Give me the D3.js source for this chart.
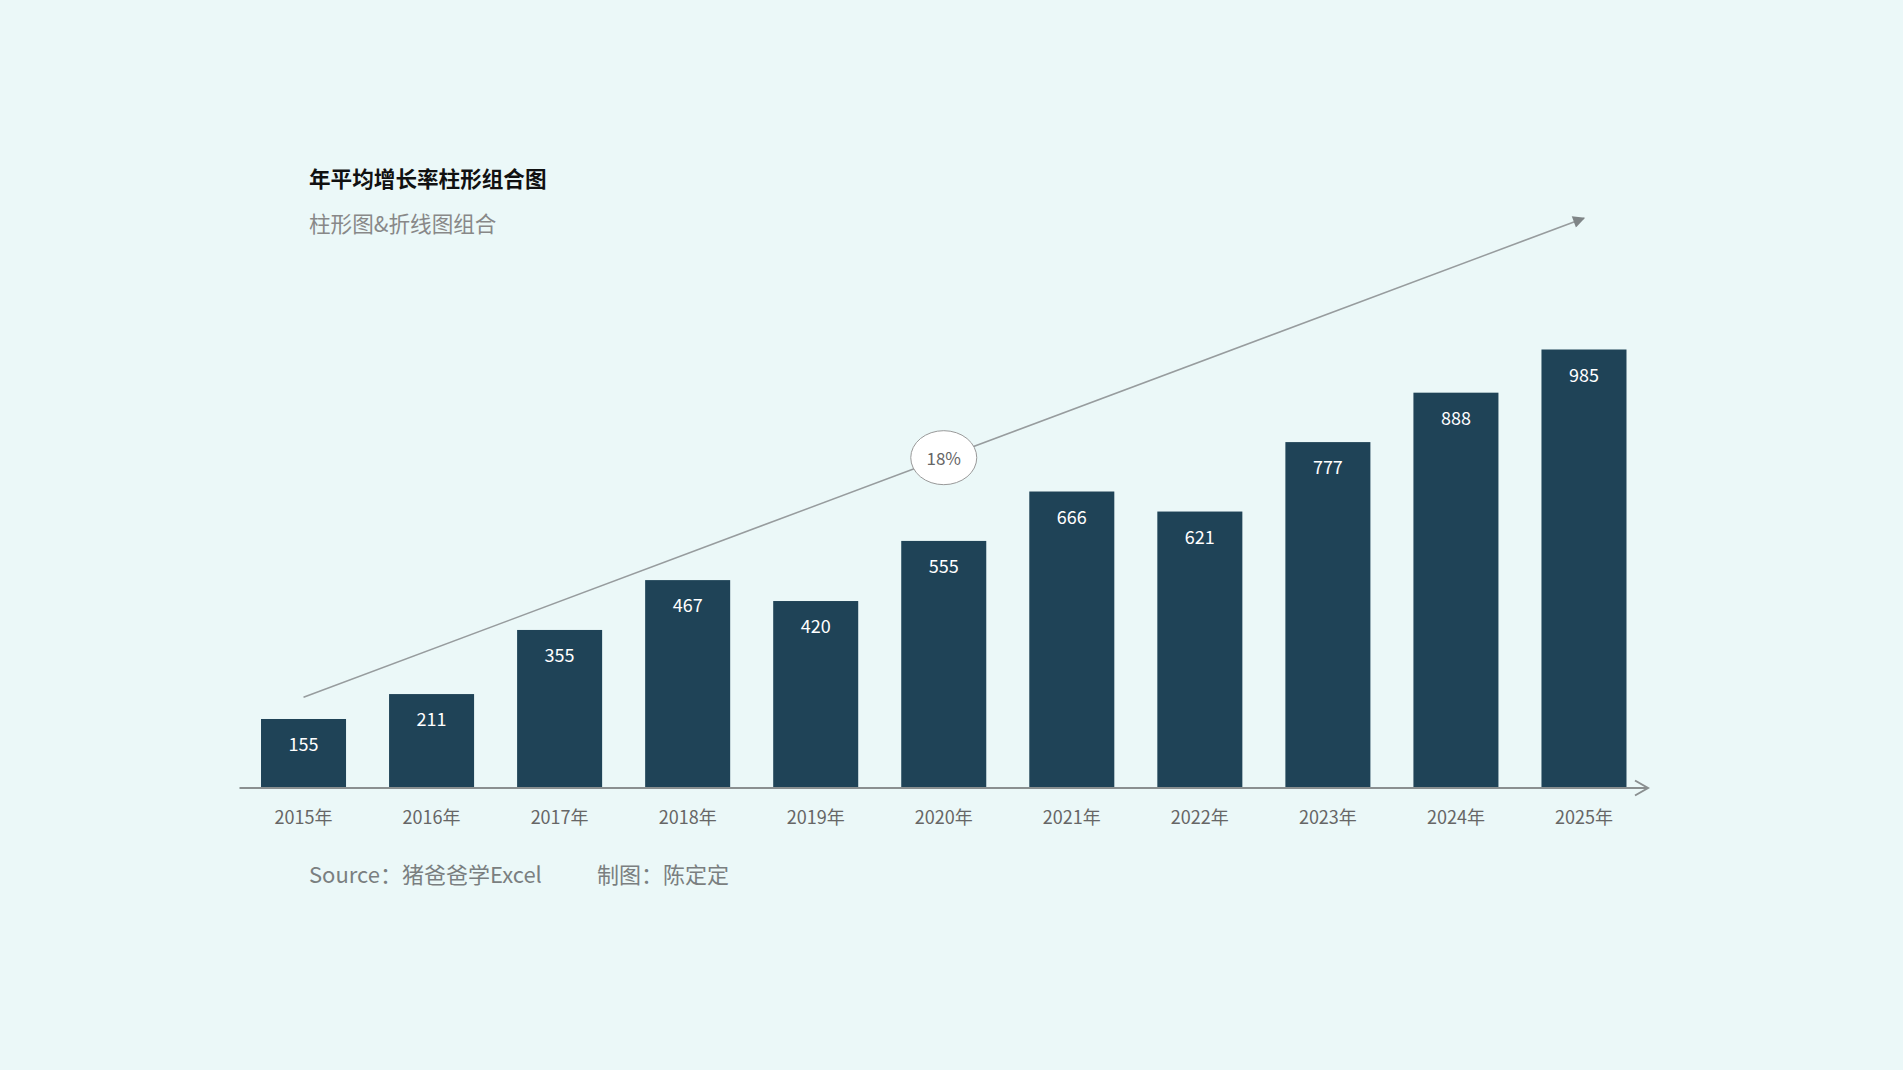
<!DOCTYPE html>
<html>
<head>
<meta charset="utf-8">
<script src="https://cdn.jsdelivr.net/npm/d3@7"></script>
<style>
  html, body { margin: 0; padding: 0; background: #ebf8f8; }
  svg { display: block; font-family: "Noto Sans CJK SC", "Noto Sans", sans-serif; }
</style>
</head>
<body>
<div id="chart"></div>
<script>
// chart data
const years = ['2015年', '2016年', '2017年', '2018年', '2019年', '2020年', '2021年', '2022年', '2023年', '2024年', '2025年'];
const values = [155, 211, 355, 467, 420, 555, 666, 621, 777, 888, 985];

// trend arrow, in value units at first / last year
const trendValues = [204, 1280];
const growthLabel = '18%';

const titleText = '年平均增长率柱形组合图';
const subtitleText = '柱形图&折线图组合';
const sourceText = 'Source：猪爸爸学Excel';
const authorText = '制图：陈定定';

const width = 1903;
const height = 1070;
const baseline = 788;

const svg = d3.select('#chart')
  .append('svg')
  .attr('width', width)
  .attr('height', height);

const defs = svg.append('defs');
defs.append('marker')
  .attr('id', 'trend-head')
  .attr('viewBox', '0 0 10 10')
  .attr('refX', 9)
  .attr('refY', 5)
  .attr('markerWidth', 13)
  .attr('markerHeight', 12)
  .attr('markerUnits', 'userSpaceOnUse')
  .attr('orient', 'auto')
  .append('path')
  .attr('d', 'M0,0 L10,5 L0,10 Z')
  .attr('fill', '#7f8587');

const xScale = d3.scaleBand()
  .domain(years)
  .range([239.5, 1648])
  .paddingInner(0.336)
  .paddingOuter(0.168);

const yScale = d3.scaleLinear()
  .domain([0, 985])
  .range([baseline, 349.5]);

const cx = (d) => xScale(d) + xScale.bandwidth() / 2;

// titles
svg.append('text')
  .attr('x', 309)
  .attr('y', 177)
  .attr('dominant-baseline', 'central')
  .attr('font-size', 21.6)
  .attr('font-weight', 'bold')
  .attr('fill', '#111')
  .text(titleText);

svg.append('text')
  .attr('x', 309)
  .attr('y', 222)
  .attr('dominant-baseline', 'central')
  .attr('font-size', 21.6)
  .attr('fill', '#888')
  .text(subtitleText);

// bars
const bars = svg.append('g').attr('class', 'bars');
bars.selectAll('rect')
  .data(values)
  .join('rect')
  .attr('x', (d, i) => xScale(years[i]))
  .attr('y', (d) => yScale(d))
  .attr('width', xScale.bandwidth())
  .attr('height', (d) => baseline - yScale(d))
  .attr('fill', '#1f4357');

bars.selectAll('text')
  .data(values)
  .join('text')
  .attr('x', (d, i) => cx(years[i]))
  .attr('y', (d) => yScale(d) + 24)
  .attr('text-anchor', 'middle')
  .attr('dominant-baseline', 'central')
  .attr('font-size', 18)
  .attr('fill', '#fff')
  .text((d) => d);

// x axis with open arrow
const xAxis = svg.append('g').attr('class', 'x-axis');
const [x0, x1] = xScale.range();
xAxis.append('line')
  .attr('x1', x0)
  .attr('x2', x1)
  .attr('y1', baseline)
  .attr('y2', baseline)
  .attr('stroke', '#8a8f90')
  .attr('stroke-width', 2);
xAxis.append('path')
  .attr('d', `M${x1 - 13},${baseline - 7.5} L${x1},${baseline} L${x1 - 13},${baseline + 7.5}`)
  .attr('fill', 'none')
  .attr('stroke', '#8a8f90')
  .attr('stroke-width', 2);

xAxis.selectAll('text.tick')
  .data(years)
  .join('text')
  .attr('class', 'tick')
  .attr('x', (d) => cx(d))
  .attr('y', 816)
  .attr('text-anchor', 'middle')
  .attr('dominant-baseline', 'central')
  .attr('font-size', 18)
  .attr('fill', '#666')
  .text((d) => d);

// trend arrow
const first = years[0];
const last = years[years.length - 1];
const trend = svg.append('g').attr('class', 'trend');
trend.append('line')
  .attr('x1', cx(first))
  .attr('y1', yScale(trendValues[0]))
  .attr('x2', cx(last))
  .attr('y2', yScale(trendValues[1]))
  .attr('stroke', '#979c9e')
  .attr('stroke-width', 1.5)
  .attr('marker-end', 'url(#trend-head)');

const mid = years[Math.floor(years.length / 2)];
const midValue = d3.mean(trendValues);
trend.append('ellipse')
  .attr('cx', cx(mid))
  .attr('cy', yScale(midValue))
  .attr('rx', 33)
  .attr('ry', 27)
  .attr('fill', '#fff')
  .attr('stroke', '#999')
  .attr('stroke-width', 1);
trend.append('text')
  .attr('x', cx(mid))
  .attr('y', yScale(midValue))
  .attr('text-anchor', 'middle')
  .attr('dominant-baseline', 'central')
  .attr('font-size', 17)
  .attr('fill', '#666')
  .text(growthLabel);

// footer
svg.append('text')
  .attr('x', 309)
  .attr('y', 873)
  .attr('dominant-baseline', 'central')
  .attr('font-size', 22)
  .attr('fill', '#7a7f80')
  .text(sourceText);

svg.append('text')
  .attr('x', 597)
  .attr('y', 873)
  .attr('dominant-baseline', 'central')
  .attr('font-size', 22)
  .attr('fill', '#7a7f80')
  .text(authorText);
</script>
</body>
</html>
